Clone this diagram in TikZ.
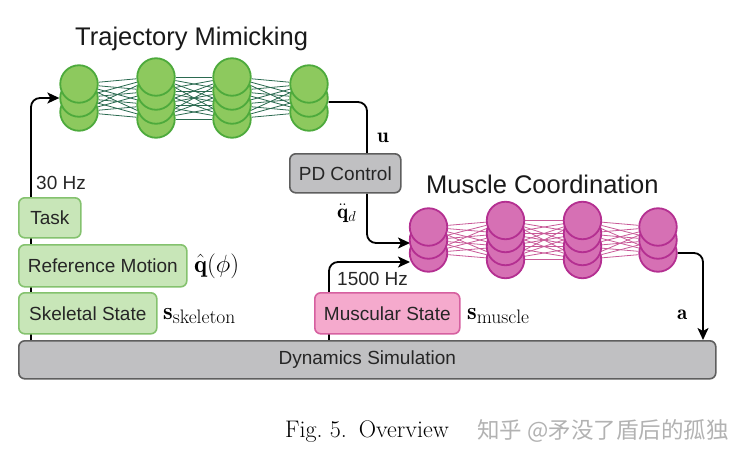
\documentclass[tikz,border=0pt]{standalone}
\usepackage{amsmath}
\usepackage{fontspec}
\setsansfont{Liberation Sans}
\newfontfamily\cjk{Noto Sans CJK SC}
\usetikzlibrary{arrows.meta,backgrounds,positioning}

\definecolor{gfill}{HTML}{8DC95E}
\definecolor{gline}{HTML}{4DAA3C}
\definecolor{gwirec}{HTML}{2B6A50}
\definecolor{pfill}{HTML}{D670B4}
\definecolor{pline}{HTML}{B42F91}
\definecolor{pwirec}{HTML}{C85A98}
\definecolor{gboxfill}{HTML}{C8E6B8}
\definecolor{gboxline}{HTML}{84C26E}
\definecolor{pboxfill}{HTML}{F5AACD}
\definecolor{pboxline}{HTML}{D660A0}
\definecolor{sboxfill}{HTML}{C0C0C2}
\definecolor{sboxline}{HTML}{5E5E5E}

\tikzset{
  gcirc/.style={circle, draw=gline, fill=gfill, line width=1.8pt, minimum size=37.5pt, inner sep=0pt},
  pcirc/.style={circle, draw=pline, fill=pfill, line width=1.8pt, minimum size=37.5pt, inner sep=0pt},
  gwire/.style={gwirec, line width=0.8pt},
  pwire/.style={pwirec, line width=0.8pt},
  box/.style={rounded corners=6pt, line width=1.6pt, inner sep=0pt, anchor=north west,
    font=\sffamily\fontsize{19}{19}\selectfont, text=black!85},
  gbox/.style={box, draw=gboxline, fill=gboxfill},
  pbox/.style={box, draw=pboxline, fill=pboxfill},
  sbox/.style={box, draw=sboxline, fill=sboxfill},
  title/.style={font=\sffamily\fontsize{25.5}{25.5}\selectfont, anchor=base west, inner sep=0pt, text=black!90},
  rate/.style={font=\sffamily\fontsize{19}{19}\selectfont, anchor=base west, inner sep=0pt, text=black!85},
  sym/.style={font=\fontsize{21}{21}\selectfont, anchor=base west, inner sep=0pt},
  bigsym/.style={sym, font=\fontsize{24.5}{24.5}\selectfont},
  wire/.style={line width=1.8pt, rounded corners=9pt},
  arr/.style={wire, -{Stealth[length=12pt, width=11pt, inset=3pt]}}
}
\newcommand{\subtxt}[1]{\text{\fontsize{19.5}{19.5}\selectfont #1}}

\begin{document}
\begin{tikzpicture}[x=1pt, y=-1pt]
\useasboundingbox (0,0) rectangle (745,466);

% titles
\node[title] (ttraj) at (75,45) {Trajectory Mimicking};
\node[title] (tmus) at (426,193) {Muscle Coordination};

% networks, top circle drawn last
\foreach \l/\x/\n in {1/79/3, 2/156/4, 3/232/4, 4/309/3}
  \foreach \j in {\n,...,1}
    \node[gcirc] (g\l-\j) at (\x, {98+(\j-(\n+1)/2)*14}) {};
\foreach \l/\x/\n in {1/428.5/3, 2/505.5/4, 3/582.5/4, 4/658/3}
  \foreach \j in {\n,...,1}
    \node[pcirc] (p\l-\j) at (\x, {240+(\j-(\n+1)/2)*13}) {};

% boxes
\node[gbox, minimum width=62pt, minimum height=40pt] (task) at (18,197) {Task};
\node[gbox, minimum width=168pt, minimum height=42pt] (refm) at (18,244) {Reference Motion};
\node[gbox, minimum width=138pt, minimum height=41pt] (skel) at (18,292) {Skeletal State};
\node[pbox, minimum width=145pt, minimum height=41pt] (mstate) at (314,292) {Muscular State};
\node[sbox, minimum width=111pt, minimum height=39pt] (pd) at (289,153) {PD Control};
\node[sbox, minimum width=697pt, minimum height=38pt] (dyn) at (18,340) {Dynamics Simulation};

% rates and symbols
\node[rate] (r30) at (36,189) {30 Hz};
\node[rate] (r1500) at (337,285) {1500 Hz};
\node[bigsym] (lq) at (194,272) {$\hat{\mathbf{q}}(\phi)$};
\node[bigsym] (lsk) at (163,319) {$\mathbf{s}_{\subtxt{skeleton}}$};
\node[bigsym] (lsm) at (467,319) {$\mathbf{s}_{\subtxt{muscle}}$};
\node[sym] (lu) at (377,142) {$\mathbf{u}$};
\node[sym] (lqd) at (337,218) {$\ddot{\mathbf{q}}_{d}$};
\node[sym] (la) at (677,319) {$\mathbf{a}$};

% ends of connectors
\coordinate (lx) at (31,0);
\coordinate (pdx) at (367,0);
\coordinate (msx) at (329,0);
\coordinate (rx) at (703,0);
\coordinate (inq) at (410,243);
\coordinate (ins) at (410,262);

\begin{scope}[on background layer]
  \foreach \a/\na/\b/\nb in {1/3/2/4, 2/4/3/4, 3/4/4/3} {
    \foreach \i in {1,...,\na}
      \foreach \k in {1,...,\nb} {
        \draw[gwire] (g\a-\i) -- (g\b-\k);
        \draw[pwire] (p\a-\i) -- (p\b-\k);
      }
  }
  \draw[arr] (dyn.north -| lx) |- (g1-2.west);
  \draw[wire] ([yshift=-4pt]g4-2.east) -| (pd.north -| pdx);
  \draw[arr] (pd.south -| pdx) |- (inq);
  \draw[arr] (dyn.north -| msx) |- (ins);
  \draw[arr] (p4-3.east) -| (dyn.north -| rx);
\end{scope}

% caption
\node[font=\fontsize{24}{24}\selectfont, anchor=base west, inner sep=0pt] (cap) at (285,437) {Fig.~5.\enspace Overview};
\node[font=\cjk\fontsize{22.5}{22.5}\selectfont, anchor=base west, inner sep=0pt, text=black!30] (wm) at (477,438) {知乎 @矛没了盾后的孤独};
\end{tikzpicture}
\end{document}
